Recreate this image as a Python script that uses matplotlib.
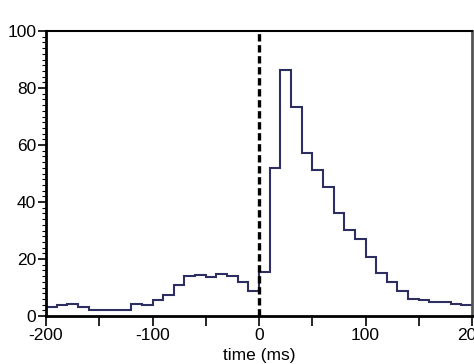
import numpy as np
import matplotlib
matplotlib.use("Agg")
import matplotlib.pyplot as plt
from matplotlib.ticker import MultipleLocator, FixedLocator

bin_edges = list(range(-200, 201, 10))
counts = [3.2, 3.8, 4.2, 3.0, 2.0, 2.1, 2.1, 2.2, 4.2, 3.8,
          5.6, 7.4, 10.9, 14.0, 14.4, 13.8, 14.7, 14.0, 12.0, 8.9,
          15.4, 51.8, 86.3, 73.2, 57.2, 51.1, 45.2, 36.0, 30.2, 27.1,
          20.8, 15.2, 12.0, 8.9, 6.1, 5.6, 5.0, 4.8, 4.2, 3.9]
x_ticks = [-200, -100, 0, 100, 200]
x_tick_labels = ["-200", "-100", "0", "100", "200"]
y_ticks = [0, 20, 40, 60, 80, 100]
y_tick_labels = ["0", "20", "40", "60", "80", "100"]
event_time = 0

plt.rcParams['font.family'] = ['Liberation Sans', 'DejaVu Sans']

fig = plt.figure(figsize=(4.74, 3.64), dpi=100)
ax = fig.add_axes([46/474, 48/364, 426/474, 285/364])

ax.stairs(counts, bin_edges, baseline=None, color='#2e2f60', linewidth=1.5)
ax.axvline(event_time, color='black', linewidth=2.4, linestyle=(0, (2.2, 1.1)))

ax.set_xlim(-200, 200)
ax.set_ylim(0, 100)
ax.set_xticks(x_ticks)
ax.set_xticklabels(x_tick_labels)
ax.xaxis.set_minor_locator(FixedLocator([-150, -50, 50, 150]))
ax.set_yticks(y_ticks)
ax.set_yticklabels(y_tick_labels)
ax.yaxis.set_minor_locator(MultipleLocator(2))

ax.tick_params(axis='x', which='both', direction='out', length=7, width=1.2,
               labelsize=12.5, pad=2, top=False)
ax.tick_params(axis='y', which='major', direction='out', length=6, width=1.2,
               labelsize=12.5, pad=1, right=False)
ax.tick_params(axis='y', which='minor', direction='out', length=3, width=0.8, right=False)

for s in ['left', 'bottom']:
    ax.spines[s].set_linewidth(2)
ax.spines['top'].set_linewidth(1.5)
ax.spines['right'].set_linewidth(2)
ax.spines['right'].set_color('#555555')

ax.set_xlabel('time (ms)', fontsize=12.5, labelpad=3)

fig.savefig('out.png', dpi=100)
